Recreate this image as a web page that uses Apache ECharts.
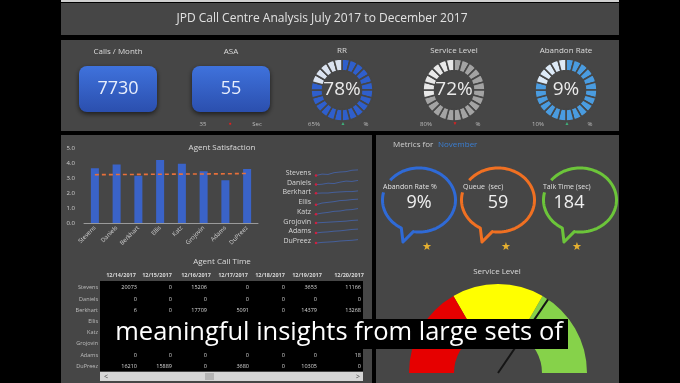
<!DOCTYPE html>
<html><head><meta charset="utf-8">
<script src="https://cdn.jsdelivr.net/npm/echarts@6/dist/echarts.min.js"></script>
<style>html,body{margin:0;padding:0;background:#000}#c{width:680px;height:383px}</style>
</head><body><div id="c"></div>
<script>
// ---------------- data ----------------
const dashTitle = 'JPD Call Centre Analysis July 2017 to December 2017';
const kpiLabels = ['Calls / Month', 'ASA'];
const kpiValues = ['7730', '55'];
const asaFooter = ['35', 'Sec'];
const ringLabels = ['RR', 'Service Level', 'Abandon Rate'];
const ringValues = ['78%', '72%', '9%'];
const ringSegmentCount = 24;
const ringFilledSegments = [19, 17, 19];
const ringTargets = ['65%', '80%', '10%'];
const ringTrend = ['up', 'down', 'up'];
const agents = ['Stevens', 'Daniels', 'Berkhart', 'Ellis', 'Katz', 'Grojovin', 'Adams', 'DuPreez'];
const satisfaction = [3.65, 3.9, 3.15, 4.2, 3.95, 3.45, 2.85, 3.6];
const satisfactionTarget = [3.22, 3.23, 3.24, 3.25, 3.26, 3.27, 3.28, 3.3];
const satTicks = ['0.0', '1.0', '2.0', '3.0', '4.0', '5.0'];
const sparkStevens = [2.0, 2.4, 2.3, 2.8, 3.0, 3.1, 3.5, 3.6];
const sparkDaniels = [2.2, 2.3, 2.6, 2.5, 2.9, 3.2, 3.1, 3.4];
const sparkBerkhart = [2.5, 2.6, 2.6, 2.8, 2.9, 3.0, 3.0, 3.2];
const sparkEllis = [2.0, 2.5, 2.7, 2.9, 3.2, 3.3, 3.5, 3.6];
const sparkKatz = [2.1, 2.4, 2.6, 2.9, 3.0, 3.3, 3.4, 3.7];
const sparkGrojovin = [2.4, 2.5, 2.6, 2.7, 2.8, 2.9, 3.1, 3.2];
const sparkAdams = [2.3, 2.5, 2.6, 2.8, 2.9, 3.1, 3.3, 3.4];
const sparkDuPreez = [2.2, 2.4, 2.5, 2.6, 2.8, 2.9, 3.0, 3.2];
const callDates = ['12/14/2017', '12/15/2017', '12/16/2017', '12/17/2017', '12/18/2017', '12/19/2017', '12/20/2017'];
const callStevens = [20073, 0, 15206, 0, 0, 3653, 11166];
const callDaniels = [0, 0, 0, 0, 0, 0, 0];
const callBerkhart = [6, 0, 17709, 5091, 0, 14379, 13268];
const callEllis = [11437, 10614, 20066, 0, 0, 17626, 20182];
const callKatz = [9120, 0, 12455, 0, 0, 8803, 15032];
const callGrojovin = [0, 13390, 0, 7204, 0, 0, 11870];
const callAdams = [0, 0, 0, 0, 0, 0, 18];
const callDuPreez = [16210, 15889, 0, 3680, 0, 10305, 0];
const metricsMonth = 'November';
const metricLabels = ['Abandon Rate %', 'Queue  (sec)', 'Talk Time (sec)'];
const metricValues = ['9%', '59', '184'];
const serviceBands = [33.3, 66.7, 100];
const serviceNeedle = 69;
const subtitle = 'meaningful insights from large sets of';

// ---------------- layout / style ----------------
const FF = '"Open Sans", "Noto Sans", sans-serif';
const PANEL = '#464646';
const ringCx = [342, 454, 566];
const ringColors = [['#2f5fcc', '#dbe3f0'], ['#a3a3a3', '#e8e8e8'], ['#4a9ce0', '#dce9f6']];
const sparkSets = [sparkStevens, sparkDaniels, sparkBerkhart, sparkEllis, sparkKatz, sparkGrojovin, sparkAdams, sparkDuPreez];
const callRows = [callStevens, callDaniels, callBerkhart, callEllis, callKatz, callGrojovin, callAdams, callDuPreez];
const colRight = [137, 172, 207, 249, 285, 317, 361];
const colCenter = [121, 157, 196, 233, 270, 307, 349];
const bubbleCx = [419, 498, 580];
const bubbleColors = ['#2f6ad6', '#f07022', '#6cc53a'];

function T(text, x, y, size, color, align, weight) {
  return {
    type: 'text', x: x, y: y, z: 50,
    style: {
      text: text, fill: color, font: (weight ? weight + ' ' : '') + size + 'px ' + FF,
      align: align || 'center', verticalAlign: 'middle',
      textAlign: align || 'center', textVerticalAlign: 'middle'
    }
  };
}
function R(x, y, w, h, fill, z, r) {
  return { type: 'rect', z: z || 0, shape: { x: x, y: y, width: w, height: h, r: r || 0 }, style: { fill: fill } };
}

const graphics = [];
graphics.push(R(61, 0, 558, 2, '#cfcfcf', 0));
graphics.push(R(61, 3, 558, 32, PANEL, 0));
graphics.push(R(61, 40, 558, 91, PANEL, 0));
graphics.push(R(61, 135, 311, 248, PANEL, 0));
graphics.push(R(376, 135, 243, 248, PANEL, 0));
graphics.push(T(dashTitle, 322, 19, 12, '#e2e2e2'));

// KPI boxes
const kpiX = [79, 192];
kpiLabels.forEach((lab, i) => {
  graphics.push(T(lab, kpiX[i] + 39, 52, 8, '#dcdcdc'));
  graphics.push({
    type: 'rect', z: 5, shape: { x: kpiX[i], y: 66, width: 78, height: 46, r: 8 },
    style: {
      fill: new echarts.graphic.LinearGradient(0, 0, 0, 1, [{ offset: 0, color: '#3f72dc' }, { offset: 1, color: '#2b4fae' }]),
      shadowBlur: 5, shadowColor: 'rgba(0,0,0,0.6)', shadowOffsetY: 2
    }
  });
  graphics.push(T(kpiValues[i], kpiX[i] + 39, 89, 18, '#e8eefc'));
});
graphics.push(T(asaFooter[0], 203, 124, 6, '#bdbdbd'));
graphics.push(T('●', 230, 124, 5, '#e02020'));
graphics.push(T(asaFooter[1], 257, 124, 6, '#bdbdbd'));

ringLabels.forEach((lab, i) => {
  graphics.push(T(lab, ringCx[i], 51, 8, '#dcdcdc'));
  graphics.push(T(ringValues[i], ringCx[i], 90, 19, '#eaeaea'));
  graphics.push(T(ringTargets[i], ringCx[i] - 28, 124, 6, '#bdbdbd'));
  graphics.push(T(ringTrend[i] === 'up' ? '▲' : '▼', ringCx[i] + 1, 124, 5, ringTrend[i] === 'up' ? '#3fb07a' : '#e02020'));
  graphics.push(T('%', ringCx[i] + 24, 124, 6, '#bdbdbd'));
});

graphics.push(T('Agent Satisfaction', 222, 148, 8, '#dcdcdc'));
graphics.push(T('Agent Call Time', 222, 262, 8, '#dcdcdc'));

const sparkY = [172.7, 182.5, 192.3, 202, 211.7, 221.5, 231.2, 241];
agents.forEach((a, i) => graphics.push(T(a, 311, sparkY[i], 7, '#d8d8d8', 'right')));

// table
graphics.push(R(100, 281, 263, 90, '#000', 5));
callDates.forEach((d, j) => graphics.push(T(d, colCenter[j], 275, 5.5, '#d8d8d8', 'center', 'bold')));
const rowY = [287.7, 299, 310.5, 321.5, 332.5, 343.5, 355, 366];
agents.forEach((a, i) => {
  graphics.push(T(a, 98, rowY[i], 5.5, '#bdbdbd', 'right'));
  callRows[i].forEach((v, j) => graphics.push(T(String(v), colRight[j], rowY[i], 5.5, '#d8d8d8', 'right')));
});
graphics.push(R(100, 372, 263, 9, '#d6d6d6', 6));
graphics.push(R(205, 373, 9, 7, '#b4b4b4', 7));
graphics.push(T('<', 106, 376.5, 7, '#444'));
graphics.push(T('>', 358, 376.5, 7, '#444'));

// metrics panel
graphics.push(T('Metrics for', 393, 145, 8, '#d0d0d0', 'left'));
graphics.push(T(metricsMonth, 438, 145, 8, '#3a7fd4', 'left'));
function bubble(cx, cy, rx, ry) {
  const pts = [];
  const P = a => [cx + rx * Math.cos(a * Math.PI / 180), cy - ry * Math.sin(a * Math.PI / 180)];
  for (let a = 142; a >= -99; a -= 3) pts.push(P(a));
  pts.push(P(-99));
  pts.push([cx - 16, cy + 42]);
  for (let a = -119; a >= -195; a -= 3) pts.push(P(a));
  return pts;
}
const metricLabelX = [383, 463, 543];
const metricValueX = [419, 498, 569];
metricLabels.forEach((lab, i) => {
  graphics.push({ type: 'polyline', z: 10, shape: { points: bubble(bubbleCx[i], 200, 36.5, 32) }, style: { stroke: bubbleColors[i], lineWidth: 3, fill: null, lineJoin: 'round' } });
  graphics.push(T(lab, metricLabelX[i], 187, 7, '#e0e0e0', 'left'));
  graphics.push(T(metricValues[i], metricValueX[i], 203, 18, '#f0f0f0'));
  graphics.push(T('★', bubbleCx[i] + 8 - (i === 2 ? 11 : 0), 247, 11, '#e6b030'));
});
graphics.push(T('Service Level', 497, 272, 8, '#dcdcdc'));

// subtitle banner
graphics.push(R(108, 319, 460, 30, '#000', 100));
const sub = T(subtitle, 339, 333, 25.5, '#ffffff');
sub.z = 101;
graphics.push(sub);

// ---------------- series ----------------
const grids = [{ left: 84, top: 148, width: 174, height: 75 }];
const xAxes = [{
  type: 'category', gridIndex: 0, data: agents,
  axisLine: { lineStyle: { color: '#9a9a9a', width: 1 } }, axisTick: { show: false },
  axisLabel: { rotate: 45, fontSize: 6, color: '#d0d0d0', margin: 4, interval: 0, fontFamily: FF }
}];
const yAxes = [{
  type: 'value', gridIndex: 0, min: 0, max: 5, interval: 1,
  axisLine: { show: false }, axisTick: { show: false }, splitLine: { show: false },
  axisLabel: { fontSize: 6, color: '#cfcfcf', margin: 9, fontFamily: FF, formatter: v => satTicks[Math.round(v)] }
}];
const series = [
  { type: 'bar', xAxisIndex: 0, yAxisIndex: 0, data: satisfaction, barWidth: 8, itemStyle: { color: '#3a63c8' }, silent: true },
  { type: 'line', xAxisIndex: 0, yAxisIndex: 0, data: satisfactionTarget, symbol: 'none', lineStyle: { color: '#e8703a', width: 1.6, type: [4, 3] }, z: 5, silent: true }
];
sparkSets.forEach((d, i) => {
  grids.push({ left: 316, top: sparkY[i] - 3.5, width: 42, height: 7 });
  xAxes.push({ type: 'category', gridIndex: i + 1, show: false, boundaryGap: false, data: d.map((_, k) => k) });
  yAxes.push({ type: 'value', gridIndex: i + 1, show: false, min: 1.8, max: 3.8 });
  series.push({
    type: 'line', xAxisIndex: i + 1, yAxisIndex: i + 1, silent: true,
    data: d.map((v, k) => k === 0 ? { value: v, symbol: 'circle', symbolSize: 2.5, itemStyle: { color: '#d02040' } } : { value: v, symbol: 'none' }),
    showSymbol: true, lineStyle: { color: '#4566b0', width: 0.8 }
  });
});
ringLabels.forEach((lab, i) => {
  const data = [];
  for (let s = 0; s < ringSegmentCount; s++) {
    data.push({ value: 1, itemStyle: { color: s < ringFilledSegments[i] ? ringColors[i][0] : ringColors[i][1] } });
  }
  series.push({
    type: 'pie', center: [ringCx[i], 90], radius: [19.5, 31], startAngle: 90, clockwise: true, silent: true,
    label: { show: false }, labelLine: { show: false }, itemStyle: { borderColor: PANEL, borderWidth: 1.6 }, data: data
  });
});
series.push({
  type: 'gauge', center: [498, 373], radius: 89, startAngle: 180, endAngle: 0, min: 0, max: 100, silent: true,
  axisLine: { lineStyle: { width: 45, color: [[serviceBands[0] / 100, '#e60000'], [serviceBands[1] / 100, '#ffff00'], [serviceBands[2] / 100, '#86d24a']] } },
  splitLine: { show: false }, axisTick: { show: false }, axisLabel: { show: false },
  pointer: { icon: 'rect', length: '100%', width: 2, itemStyle: { color: '#151515' } },
  anchor: { show: false }, title: { show: false }, detail: { show: false },
  data: [{ value: serviceNeedle }]
});

const chart = echarts.init(document.getElementById('c'), null, { renderer: 'canvas' });
chart.setOption({
  backgroundColor: '#000', animation: false,
  textStyle: { fontFamily: FF },
  grid: grids, xAxis: xAxes, yAxis: yAxes, series: series,
  graphic: { elements: graphics }
});
</script></body></html>
